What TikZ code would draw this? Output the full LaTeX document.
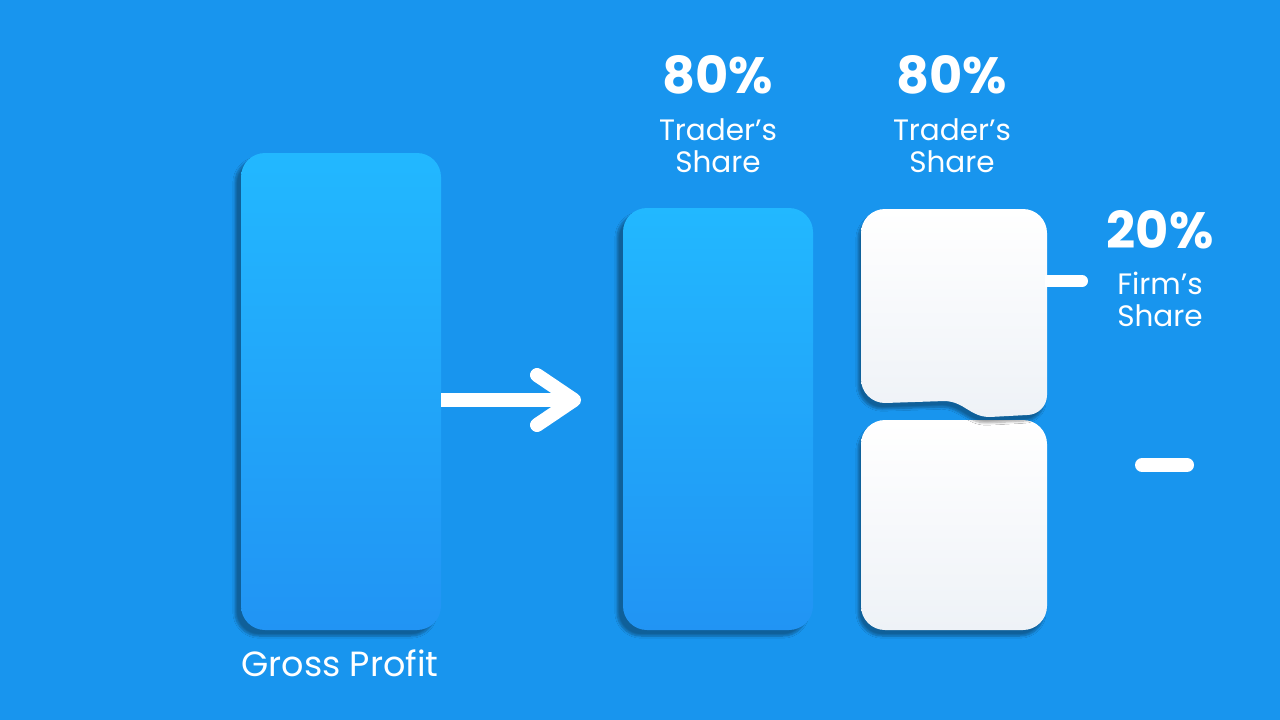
\documentclass[tikz,border=0pt]{standalone}
\usepackage{fontspec}
\setmainfont{Poppins}
\usetikzlibrary{shadows.blur}
\definecolor{bg}{HTML}{1895EE}
\definecolor{bartop}{HTML}{22B8FF}
\definecolor{barbot}{HTML}{2194F4}
\definecolor{wtop}{HTML}{FFFFFF}
\definecolor{wbot}{HTML}{EEF2F7}
\tikzset{
  bar/.style={rounded corners=24pt, top color=bartop, bottom color=barbot, draw=none,
    blur shadow={shadow xshift=-6pt, shadow yshift=-6pt, shadow blur steps=8, shadow opacity=35}},
  wbox/.style={top color=wtop, bottom color=wbot, draw=none,
    blur shadow={shadow xshift=-3pt, shadow yshift=-6pt, shadow blur steps=8, shadow opacity=35}},
  pct/.style={text=white, font=\fontsize{51}{55}\selectfont\bfseries, anchor=center},
  lbl/.style={text=white, font=\fontsize{29.5}{32}\selectfont, align=center, anchor=center},
  wline/.style={white, line cap=round, line join=round}
}
\begin{document}
\begin{tikzpicture}[x=1pt,y=-1pt]
\fill[bg] (0,0) rectangle (1280,720);
\useasboundingbox (0,0) rectangle (1280,720);
% bars
\path[bar] (241,153) rectangle (441,630);
\node[inner sep=0, minimum width=0, minimum height=0] (gp) at (441,400) {};
\path[bar] (623,208) rectangle (813,630);
\node[inner sep=0] (mid) at (574,400) {};
% arrow
\draw[white, line width=14pt, line cap=butt] (gp.center) -- (566,400);
\draw[wline, line width=14pt] (537,375) -- (mid.center) -- (537,425);
% white boxes
\path[wbox] (885,420) -- (1023,420) arc (270:360:24) -- (1047,606) arc (0:90:24)
   -- (885,630) arc (90:180:24) -- (861,444) arc (180:270:24) -- cycle;
\path[wbox] (861,233) arc (180:270:24) -- (1023,209) arc (270:360:24)
   -- (1047,395) arc (0:90:20) -- (990,417) .. controls (970,417) and (965,402) .. (945,401)
   -- (885,403) arc (90:180:24) -- cycle;
% tab and dash
\coordinate (tabstart) at (1045,281);
\coordinate (tabend) at (1082,281);
\draw[white, line width=12pt] (tabstart) -- (tabend);
\fill[white] (tabend) circle (6pt);
\coordinate (d1) at (1142,465);
\coordinate (d2) at (1187,465);
\draw[wline, line width=14pt] (d1) -- (d2);
% texts
\node[pct] (p1) at (718,75) {80\%};
\node[lbl] (t1) at (718,146) {Trader's\\[0pt]Share};
\node[pct] (p2) at (952,75) {80\%};
\node[lbl] (t2) at (952,146) {Trader's\\[0pt]Share};
\node[pct] (p3) at (1160,230) {20\%};
\node[lbl] (t3) at (1160,299) {Firm's\\[0pt]Share};
\node[lbl, font=\fontsize{35}{38}\selectfont] (g) at (340,663) {Gross Profit};
\end{tikzpicture}
\end{document}
